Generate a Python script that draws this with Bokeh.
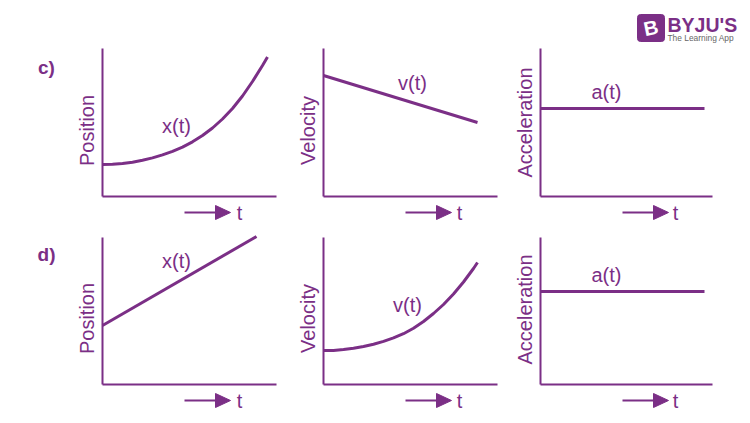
from bokeh.core.properties import value
from bokeh.embed import file_html
from bokeh.layouts import column, row
from bokeh.models import Range1d
from bokeh.plotting import figure
from bokeh.resources import INLINE
import math

PURPLE = "#7b2f86"
FONT = "Liberation Sans"

# curves, in arbitrary units
pos_c_t = [0, 10, 20, 30, 40, 50, 60, 70, 80, 90, 100, 110, 120, 130, 140, 150, 160, 165]
pos_c_y = [32, 32.2, 33, 34.3, 36.2, 38.6, 41.6, 45.2, 49.4, 54.7, 61, 68.5, 77.5, 88, 100.5, 115, 131, 139.5]
vel_c_t = [0, 154]
vel_c_y = [121, 74]
acc_c_t = [0, 164]
acc_c_y = [88, 88]
pos_d_t = [0, 154]
pos_d_y = [59, 148]
vel_d_t = [0, 10, 20, 30, 40, 50, 60, 70, 80, 90, 100, 110, 120, 130, 140, 150, 154]
vel_d_y = [34, 34.1, 34.9, 36.2, 38, 40.3, 43.1, 46.6, 50.8, 56.3, 63, 71, 80, 90.5, 102.5, 116, 122]
acc_d_t = [0, 164]
acc_d_y = [93, 93]


def txt(p, x, y, s, size="20px", color=PURPLE, align="center", style="normal", angle=0.0):
    p.text(x=[x], y=[y], text=[s], text_font=value(FONT), text_font_size=value(size),
           text_font_style=style, text_color=color, text_align=align,
           text_baseline="middle", angle=angle)


def panel(ts, ys, ytitle, name, name_xy, left, frame_w, right, top, frame_h, bottom,
          ylabel_x, ylabel_y, t_x):
    p = figure(width=left + frame_w + right, height=top + frame_h + bottom,
               x_range=Range1d(-left, frame_w + right), y_range=Range1d(-bottom, frame_h + top),
               output_backend="svg", toolbar_location=None,
               min_border_left=0, min_border_right=0, min_border_top=0, min_border_bottom=0,
               outline_line_color=None)
    p.grid.visible = False
    for ax, end in ((p.xaxis[0], frame_w), (p.yaxis[0], frame_h)):
        ax.ticker = []
        ax.fixed_location = 0
        ax.bounds = (0, end)
        ax.major_label_text_font_size = "0px"
        ax.major_tick_line_color = None
        ax.minor_tick_line_color = None
        ax.axis_line_color = PURPLE
        ax.axis_line_width = 2
    p.line(ts, ys, line_color=PURPLE, line_width=3)
    txt(p, name_xy[0], name_xy[1], name)
    txt(p, ylabel_x, ylabel_y, ytitle, angle=math.pi / 2)
    a = -16
    p.line([82, 114], [a, a], line_color=PURPLE, line_width=2)
    p.patch([113, 128, 113], [a - 7, a, a + 7], fill_color=PURPLE, line_color=PURPLE, line_width=1)
    txt(p, t_x, a, "t")
    return p


f1 = panel(pos_c_t, pos_c_y, "Position", "x(t)", (74, 71), 102, 174, 14, 48, 148, 29, -16, 66, 137)
f2 = panel(vel_c_t, vel_c_y, "Velocity", "v(t)", (89, 114), 33, 174, 10, 48, 148, 29, -16, 66, 136)
f3 = panel(acc_c_t, acc_c_y, "Acceleration", "a(t)", (66, 105), 33, 172, 30, 48, 148, 29, -16, 74, 135)
txt(f1, -56, 129, "c)", size="19px", style="bold")

# logo, in the free space above the third panel
f3.quad(left=[97], right=[124], bottom=[155], top=[182], fill_color=PURPLE, line_color=PURPLE,
        border_radius=3)
txt(f3, 110.5, 168.5, "B", size="20px", color="white", style="bold", angle=0.2)
txt(f3, 127, 172, "BYJU'S", size="19.5px", align="left", style="bold")
txt(f3, 127, 159, "The Learning App", size="8.4px", color="#666666", align="left")

f4 = panel(pos_d_t, pos_d_y, "Position", "x(t)", (74, 124), 102, 174, 14, 12, 147, 30, -16, 66, 137)
f5 = panel(vel_d_t, vel_d_y, "Velocity", "v(t)", (84, 80), 33, 174, 10, 12, 147, 30, -16, 66, 136)
f6 = panel(acc_d_t, acc_d_y, "Acceleration", "a(t)", (66, 110), 33, 172, 30, 12, 147, 30, -16, 75, 135)
txt(f4, -56, 130, "d)", size="19px", style="bold")

page = column(row(f1, f2, f3, spacing=0), row(f4, f5, f6, spacing=0), spacing=0)
open("out.html", "w").write(file_html(page, INLINE))
